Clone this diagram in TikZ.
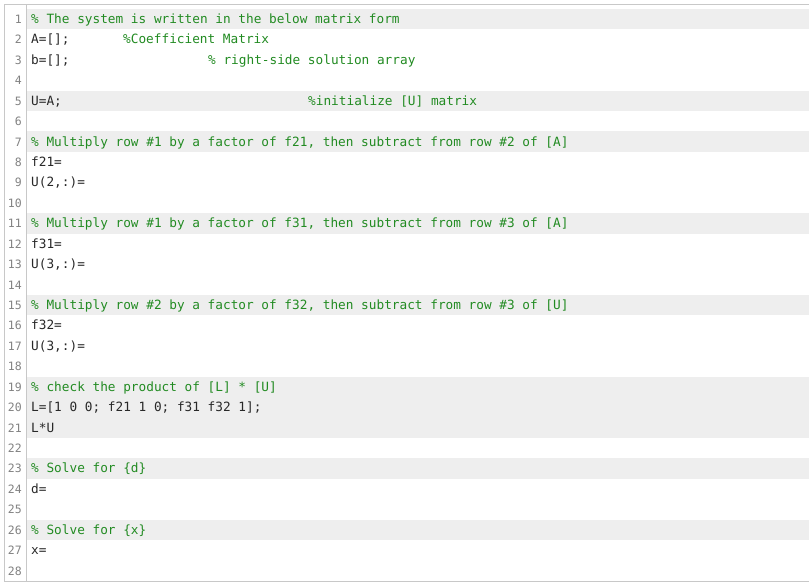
\documentclass[tikz,border=0pt]{standalone}
\usepackage{fontspec}
\setmonofont{DejaVu Sans Mono}
\definecolor{cmt}{RGB}{34,139,34}
\definecolor{band}{RGB}{238,238,238}
\definecolor{lnum}{RGB}{130,130,130}
\definecolor{frame}{RGB}{200,200,200}
\definecolor{codec}{RGB}{40,40,40}
\begin{document}
\begin{tikzpicture}[x=1pt,y=-1pt,
  code/.style={anchor=base west,inner sep=0pt,font=\ttfamily\fontsize{12.75}{14}\selectfont,text=codec},
  cmtext/.style={code,text=cmt},
  num/.style={anchor=base east,inner sep=0pt,font=\ttfamily\fontsize{11.5}{14}\selectfont,text=lnum}]
\useasboundingbox (0,0) rectangle (809,587);
\fill[white] (0,0) rectangle (809,587);
\foreach \n in {1,5,7,11,15,23,26}{
  \fill[band] (27,{19+(\n-1)*20.43-10.2}) rectangle (809,{19+(\n-1)*20.43+10.2});
}
\fill[band] (27,{19+18*20.43-10.2}) rectangle (809,{19+20*20.43+10.2});
\draw[frame] (4,4) -- (4,581) -- (809,581);
\draw[frame] (4,4) -- (809,4);
\draw[frame] (26.5,4) -- (26.5,581);
\foreach \n in {1,...,28}{
  \node[num] (n\n) at (22,{19+(\n-1)*20.43+4.5}) {\n};
}
\node[cmtext] (l1) at (31,{19+0*20.43+4.5}) {\% The system is written in the below matrix form};
\node[code] (l2) at (31,{19+1*20.43+4.5}) {A=[];};
\node[cmtext] (l2c) at (123,{19+1*20.43+4.5}) {\%Coefficient Matrix};
\node[code] (l3) at (31,{19+2*20.43+4.5}) {b=[];};
\node[cmtext] (l3c) at (208,{19+2*20.43+4.5}) {\% right-side solution array};
\node[code] (l5) at (31,{19+4*20.43+4.5}) {U=A;};
\node[cmtext] (l5c) at (308,{19+4*20.43+4.5}) {\%initialize [U] matrix};
\node[cmtext] (l7) at (31,{19+6*20.43+4.5}) {\% Multiply row \#1 by a factor of f21, then subtract from row \#2 of [A]};
\node[code] (l8) at (31,{19+7*20.43+4.5}) {f21=};
\node[code] (l9) at (31,{19+8*20.43+4.5}) {U(2,:)=};
\node[cmtext] (l11) at (31,{19+10*20.43+4.5}) {\% Multiply row \#1 by a factor of f31, then subtract from row \#3 of [A]};
\node[code] (l12) at (31,{19+11*20.43+4.5}) {f31=};
\node[code] (l13) at (31,{19+12*20.43+4.5}) {U(3,:)=};
\node[cmtext] (l15) at (31,{19+14*20.43+4.5}) {\% Multiply row \#2 by a factor of f32, then subtract from row \#3 of [U]};
\node[code] (l16) at (31,{19+15*20.43+4.5}) {f32=};
\node[code] (l17) at (31,{19+16*20.43+4.5}) {U(3,:)=};
\node[cmtext] (l19) at (31,{19+18*20.43+4.5}) {\% check the product of [L] * [U]};
\node[code] (l20) at (31,{19+19*20.43+4.5}) {L=[1 0 0; f21 1 0; f31 f32 1];};
\node[code] (l21) at (31,{19+20*20.43+4.5}) {L*U};
\node[cmtext] (l23) at (31,{19+22*20.43+4.5}) {\% Solve for \{d\}};
\node[code] (l24) at (31,{19+23*20.43+4.5}) {d=};
\node[cmtext] (l26) at (31,{19+25*20.43+4.5}) {\% Solve for \{x\}};
\node[code] (l27) at (31,{19+26*20.43+4.5}) {x=};
\end{tikzpicture}
\end{document}
